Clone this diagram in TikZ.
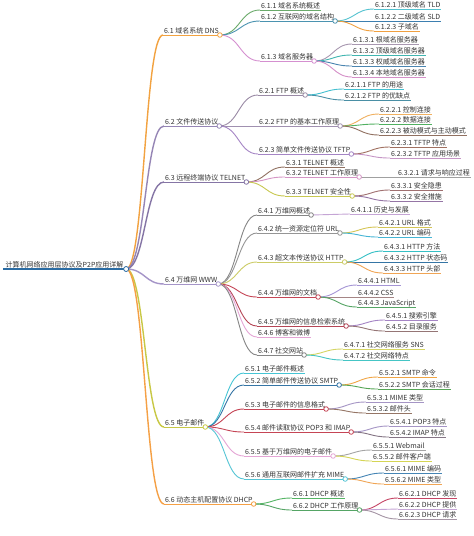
\documentclass[tikz,border=0pt]{standalone}
\usepackage{fontspec}
\setmainfont{Noto Sans CJK SC}
\usetikzlibrary{calc}
\definecolor{txt}{HTML}{333333}
\tikzset{
  lbl/.style={anchor=south west, inner xsep=0.8pt, inner ysep=0pt, text height=5.6pt, text depth=1.7pt, font=\fontsize{7}{8}\selectfont, text=txt},
  ul/.style={line width=0.9pt},
  lk/.style={line width=0.9pt},
  lk1/.style={line width=1.4pt}
}
\newcommand\nd[5]{\definecolor{c#1}{HTML}{#4}\node[lbl] (#1) at (#2,#3) {#5}; \draw[ul,draw=c#1] (#1.south west) -- (#1.south east);}
\newcommand\lk[3][lk]{\draw[#1,draw=c#3] let \p1=(#2.south east), \p2=(#3.south west) in (\p1) .. controls ({(\x1+\x2)/2},\y1) and ({(\x1+\x2)/2},\y2) .. (\p2);}
\newcommand\cc[1]{\filldraw[fill=white,draw=c#1,line width=0.8pt] (#1.south east) circle (2.3pt);}
\begin{document}
\begin{tikzpicture}[x=1pt,y=-1pt]
\fill[white] (0,0) rectangle (474,536);
\useasboundingbox (0,0) rectangle (474,536);
% root
\definecolor{cr}{HTML}{2B6CA3}
\node[lbl,inner xsep=2.5pt] (r) at (3,269) {计算机网络应用层协议及P2P应用详解};
\draw[line width=1.8pt,draw=cr] (r.south west) -- (r.south east);
% 6.1
\nd{a1}{163}{35}{F2A240}{6.1 域名系统 DNS}
\nd{a11}{260}{10}{6AAA6A}{6.1.1 域名系统概述}
\nd{a12}{260}{21}{4B93B0}{6.1.2 互联网的域名结构}
\nd{a121}{374}{9}{55C3D0}{6.1.2.1 顶级域名 TLD}
\nd{a122}{374}{21}{3D7FB0}{6.1.2.2 二级域名 SLD}
\nd{a123}{374}{31}{F0A040}{6.1.2.3 子域名}
\nd{a13}{260}{61}{D590D0}{6.1.3 域名服务器}
\nd{a131}{352}{44}{A898B0}{6.1.3.1 根域名服务器}
\nd{a132}{352}{55}{40B5B0}{6.1.3.2 顶级域名服务器}
\nd{a133}{352}{66}{4A85B0}{6.1.3.3 权威域名服务器}
\nd{a134}{352}{77}{D590C8}{6.1.3.4 本地域名服务器}
% 6.2
\nd{a2}{164}{126}{9585B5}{6.2 文件传送协议}
\nd{a21}{258}{95}{9A8AA5}{6.2.1 FTP 概述}
\nd{a211}{344}{89}{45C0D0}{6.2.1.1 FTP 的用途}
\nd{a212}{344}{100}{4A8FA5}{6.2.1.2 FTP 的优缺点}
\nd{a22}{258}{126}{A090B0}{6.2.2 FTP 的基本工作原理}
\nd{a221}{379}{114}{F0B060}{6.2.2.1 控制连接}
\nd{a222}{379}{124}{50B060}{6.2.2.2 数据连接}
\nd{a223}{379}{135}{907060}{6.2.2.3 被动模式与主动模式}
\nd{a23}{258}{154}{A585C5}{6.2.3 简单文件传送协议 TFTP}
\nd{a231}{390}{147}{A07060}{6.2.3.1 TFTP 特点}
\nd{a232}{390}{158}{C595C5}{6.2.3.2 TFTP 应用场景}
% 6.3
\nd{a3}{164}{182}{8575A5}{6.3 远程终端协议 TELNET}
\nd{a31}{285}{167}{907060}{6.3.1 TELNET 概述}
\nd{a32}{285}{177}{D595C5}{6.3.2 TELNET 工作原理}
\nd{a321}{397}{177}{A0A0A0}{6.3.2.1 请求与响应过程}
\nd{a33}{285}{196}{C8C850}{6.3.3 TELNET 安全性}
\nd{a331}{390}{190}{A07070}{6.3.3.1 安全隐患}
\nd{a332}{390}{201}{9575A5}{6.3.3.2 安全措施}
% 6.4
\nd{a4}{164}{284}{A595C8}{6.4 万维网 WWW}
\nd{a41}{257}{215}{858585}{6.4.1 万维网概述}
\nd{a411}{350}{214}{C5A5D5}{6.4.1.1 历史与发展}
\nd{a42}{257}{233}{959595}{6.4.2 统一资源定位符 URL}
\nd{a421}{378}{227}{D5C555}{6.4.2.1 URL 格式}
\nd{a422}{378}{237}{45B5D5}{6.4.2.2 URL 编码}
\nd{a43}{257}{262}{CCCC66}{6.4.3 超文本传送协议 HTTP}
\nd{a431}{383}{251}{35C0C5}{6.4.3.1 HTTP 方法}
\nd{a432}{383}{262}{3575A5}{6.4.3.2 HTTP 状态码}
\nd{a433}{383}{273}{F0A555}{6.4.3.3 HTTP 头部}
\nd{a44}{257}{297}{C54555}{6.4.4 万维网的文档}
\nd{a441}{357}{285}{A595D5}{6.4.4.1 HTML}
\nd{a442}{357}{297}{A58585}{6.4.4.2 CSS}
\nd{a443}{357}{307}{55A565}{6.4.4.3 JavaScript}
\nd{a45}{257}{326}{B54555}{6.4.5 万维网的信息检索系统}
\nd{a451}{385}{320}{A585C5}{6.4.5.1 搜索引擎}
\nd{a452}{385}{331}{957575}{6.4.5.2 目录服务}
\nd{a46}{257}{337}{E5A5D5}{6.4.6 博客和微博}
\nd{a47}{257}{355}{858585}{6.4.7 社交网站}
\nd{a471}{343}{349}{D5D565}{6.4.7.1 社交网络服务 SNS}
\nd{a472}{343}{360}{45C5C5}{6.4.7.2 社交网络特点}
% 6.5
\nd{a5}{164}{427}{C8C845}{6.5 电子邮件}
\nd{a51}{244}{373}{45C5D5}{6.5.1 电子邮件概述}
\nd{a52}{244}{385}{3575A5}{6.5.2 简单邮件传送协议 SMTP}
\nd{a521}{378}{377}{F0A545}{6.5.2.1 SMTP 命令}
\nd{a522}{378}{389}{55A555}{6.5.2.2 SMTP 会话过程}
\nd{a53}{244}{409}{C54555}{6.5.3 电子邮件的信息格式}
\nd{a531}{366}{402}{A595C5}{6.5.3.1 MIME 类型}
\nd{a532}{366}{413}{957565}{6.5.3.2 邮件头}
\nd{a54}{244}{432}{C54555}{6.5.4 邮件读取协议 POP3 和 IMAP}
\nd{a541}{389}{426}{A595C5}{6.5.4.1 POP3 特点}
\nd{a542}{389}{437}{857585}{6.5.4.2 IMAP 特点}
\nd{a55}{244}{456}{E5A5D5}{6.5.5 基于万维网的电子邮件}
\nd{a551}{372}{450}{A5A5A5}{6.5.5.1 Webmail}
\nd{a552}{372}{461}{D5D555}{6.5.5.2 邮件客户端}
\nd{a56}{244}{479}{55C5D5}{6.5.6 通用互联网邮件扩充 MIME}
\nd{a561}{384}{473}{4585B5}{6.5.6.1 MIME 编码}
\nd{a562}{384}{484}{F0A555}{6.5.6.2 MIME 类型}
% 6.6
\nd{a6}{164}{504}{F5A045}{6.6 动态主机配置协议 DHCP}
\nd{a61}{292}{498}{55B565}{6.6.1 DHCP 概述}
\nd{a62}{292}{510}{55A565}{6.6.2 DHCP 工作原理}
\nd{a621}{398}{498}{C54565}{6.6.2.1 DHCP 发现}
\nd{a622}{398}{509}{C5A5D5}{6.6.2.2 DHCP 提供}
\nd{a623}{398}{519}{A595A5}{6.6.2.3 DHCP 请求}
% links
\lk[lk1]{r}{a1}\lk[lk1]{r}{a2}\lk[lk1]{r}{a3}\lk[lk1]{r}{a4}\lk[lk1]{r}{a5}\lk[lk1]{r}{a6}
\lk{a1}{a11}\lk{a1}{a12}\lk{a1}{a13}
\lk{a12}{a121}\lk{a12}{a122}\lk{a12}{a123}
\lk{a13}{a131}\lk{a13}{a132}\lk{a13}{a133}\lk{a13}{a134}
\lk{a2}{a21}\lk{a2}{a22}\lk{a2}{a23}
\lk{a21}{a211}\lk{a21}{a212}
\lk{a22}{a221}\lk{a22}{a222}\lk{a22}{a223}
\lk{a23}{a231}\lk{a23}{a232}
\lk{a3}{a31}\lk{a3}{a32}\lk{a3}{a33}
\lk{a32}{a321}
\lk{a33}{a331}\lk{a33}{a332}
\lk{a4}{a41}\lk{a4}{a42}\lk{a4}{a43}\lk{a4}{a44}\lk{a4}{a45}\lk{a4}{a46}\lk{a4}{a47}
\lk{a41}{a411}
\lk{a42}{a421}\lk{a42}{a422}
\lk{a43}{a431}\lk{a43}{a432}\lk{a43}{a433}
\lk{a44}{a441}\lk{a44}{a442}\lk{a44}{a443}
\lk{a45}{a451}\lk{a45}{a452}
\lk{a47}{a471}\lk{a47}{a472}
\lk{a5}{a51}\lk{a5}{a52}\lk{a5}{a53}\lk{a5}{a54}\lk{a5}{a55}\lk{a5}{a56}
\lk{a52}{a521}\lk{a52}{a522}
\lk{a53}{a531}\lk{a53}{a532}
\lk{a54}{a541}\lk{a54}{a542}
\lk{a55}{a551}\lk{a55}{a552}
\lk{a56}{a561}\lk{a56}{a562}
\lk{a6}{a61}\lk{a6}{a62}
\lk{a62}{a621}\lk{a62}{a622}\lk{a62}{a623}
% circles
\filldraw[fill=white,draw=cr,line width=0.8pt] (r.south east) circle (2.5pt);
\cc{a1}\cc{a12}\cc{a13}
\cc{a2}\cc{a21}\cc{a22}\cc{a23}
\cc{a3}\cc{a32}\cc{a33}
\cc{a4}\cc{a41}\cc{a42}\cc{a43}\cc{a44}\cc{a45}\cc{a47}
\cc{a5}\cc{a52}\cc{a53}\cc{a54}\cc{a55}\cc{a56}
\cc{a6}\cc{a62}
\end{tikzpicture}
\end{document}
